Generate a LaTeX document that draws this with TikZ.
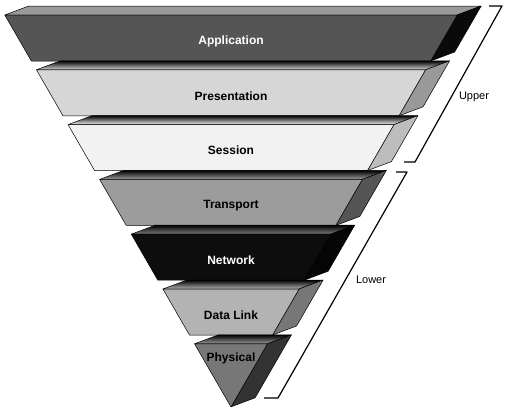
\documentclass[tikz,border=0pt]{standalone}
\usepackage{fontspec}
\setmainfont{Liberation Sans}

\definecolor{appfront}{HTML}{555555}
\definecolor{appside}{HTML}{0A0A0A}
\definecolor{apptop}{HTML}{999999}
\definecolor{prefront}{HTML}{D6D6D6}
\definecolor{preside}{HTML}{999999}
\definecolor{sesfront}{HTML}{F2F2F2}
\definecolor{sesside}{HTML}{BDBDBD}
\definecolor{trafront}{HTML}{9C9C9C}
\definecolor{traside}{HTML}{555555}
\definecolor{netfront}{HTML}{0D0D0D}
\definecolor{netside}{HTML}{050505}
\definecolor{dlfront}{HTML}{B3B3B3}
\definecolor{dlside}{HTML}{777777}
\definecolor{phyfront}{HTML}{777777}
\definecolor{physide}{HTML}{333333}

\begin{document}
\begin{tikzpicture}[x=1pt, y=-1pt, line join=round,
    face/.style={draw=black, line width=0.5pt},
    layer/.style={font=\bfseries\fontsize{12}{14}\selectfont},
    side label/.style={font=\fontsize{11}{13}\selectfont},
    bracket/.style={draw=black, line width=1.2pt}]
    \useasboundingbox (0,0) rectangle (510,410);

    % slabs, top to bottom
    \foreach \i/\h/\ly/\front/\side/\topa/\topb/\txt/\name/\lbl in {
        0/46/26/appfront/appside/apptop/apptop/white/app/Application,
        1/46/26/prefront/preside/black/prefront/black/pre/Presentation,
        2/46/26/sesfront/sesside/black/sesfront/black/ses/Session,
        3/46/26/trafront/traside/black/trafront/black/tra/Transport,
        4/46/26/netfront/netside/black/gray/white/net/Network,
        5/46/26/dlfront/dlside/black/dlfront/black/dl/Data Link,
        6/63/15/phyfront/physide/black/trafront/black/phy/Physical} {
        \pgfmathsetmacro\yt{15+54.8*\i}
        \pgfmathsetmacro\yb{\yt+\h}
        \pgfmathsetmacro\wt{(407-\yt)*0.577}
        \pgfmathsetmacro\wb{(407-\yb)*0.577}
        \shade[face, top color=\topa, bottom color=\topb]
            (231-\wt,\yt) -- (255-\wt,\yt-9) -- (255+\wt,\yt-9) -- (231+\wt,\yt) -- cycle;
        \filldraw[face, fill=\side]
            (231+\wt,\yt) -- (255+\wt,\yt-9) -- (255+\wb,\yb-9) -- (231+\wb,\yb) -- cycle;
        \filldraw[face, fill=\front]
            (231-\wt,\yt) -- (231+\wt,\yt) -- (231+\wb,\yb) -- (231-\wb,\yb) -- cycle;
        \node[layer, text=\txt] (\name) at (231,\yt+\ly) {\lbl};
    }

    % brackets
    \draw[bracket] (489,6) -- (502,6) -- (415,162) -- (404,162);
    \node[side label] (upper) at (474,97) {Upper};
    \draw[bracket] (396,172) -- (407,172) -- (278,398) -- (264,398);
    \node[side label] (lower) at (371,280) {Lower};
\end{tikzpicture}
\end{document}
